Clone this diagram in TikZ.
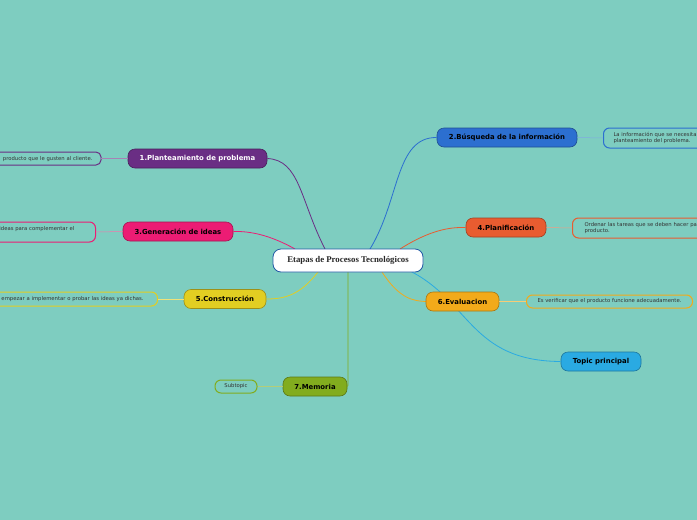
\documentclass[tikz,border=0pt]{standalone}
\usepackage{fontspec}
\setmainfont{DejaVu Sans}
\newfontfamily\serifb{Liberation Serif}
\begin{document}
\begin{tikzpicture}[x=1pt,y=-1pt,
 main/.style={rounded corners=7pt,minimum height=19pt,inner sep=0pt,font=\fontsize{6.9}{7}\selectfont\bfseries,draw=#1!70!black,fill=#1,line width=0.6pt},
 sub/.style={rounded corners=6pt,draw=#1,line width=1pt,inner sep=0pt,align=left,font=\fontsize{5.3}{6.4}\selectfont,text=black!80},
 conn/.style={line width=0.8pt,draw=#1}]
\definecolor{bg}{HTML}{7ECDC0}
\definecolor{cpur}{HTML}{6A2E84}
\definecolor{cblu}{HTML}{2C6FD0}
\definecolor{cpin}{HTML}{EC1C74}
\definecolor{cora}{HTML}{E85C30}
\definecolor{cyel}{HTML}{E2CE22}
\definecolor{cevl}{HTML}{F2AA1A}
\definecolor{ctop}{HTML}{2AAAE2}
\definecolor{cgrn}{HTML}{82AC1E}
\fill[bg] (0,0) rectangle (697,520);
\useasboundingbox (0,0) rectangle (697,520);
\coordinate (c1) at (325,249);
\coordinate (c2) at (370,249);
\coordinate (c3) at (295,249);
\coordinate (c4) at (400,249);
\coordinate (c5) at (318,272);
\coordinate (c6) at (382,272);
\coordinate (c7) at (408,270);
\coordinate (c8) at (348,272);
\node[main=cpur,text=white,minimum width=139pt] (n1) at (197.5,158.5) {1.Planteamiento de problema};
\node[main=cblu,minimum width=140pt] (n2) at (507,137.5) {2.Búsqueda de la información};
\node[main=cpin,minimum width=110pt] (n3) at (178,231.5) {3.Generación de ideas};
\node[main=cora,minimum width=80pt] (n4) at (506,227.5) {4.Planificación};
\node[main=cyel,minimum width=82pt] (n5) at (225,299) {5.Construcción};
\node[main=ctop,minimum width=80pt] (n8) at (601,361.5) {Topic principal};
\node[main=cgrn,minimum width=64pt] (n7) at (315,386.5) {7.Memoria};
\draw[conn=cpur] (c1) .. controls (300,200) and (300,160) .. (n1.east);
\draw[conn=cblu] (c2) .. controls (400,200) and (395,137) .. (n2.west);
\draw[conn=cpin] (c3) .. controls (270,235) and (250,231) .. (n3.east);
\draw[conn=cora] (c4) .. controls (430,230) and (450,227) .. (n4.west);
\draw[conn=cyel] (c5) .. controls (300,295) and (285,299) .. (n5.east);
\draw[conn=cevl] (c6) .. controls (400,300) and (415,301) .. (426,301.5);
\draw[conn=ctop] (c7) .. controls (470,300) and (470,361) .. (n8.west);
\draw[conn=cgrn] (c8) -- (348,380) .. controls (348,386) .. (n7.east);
\node[main=cevl,minimum width=73pt] (n6) at (462.5,301.5) {6.Evaluacion};
\node[draw=cblu!80!black,fill=white,rounded corners=8pt,minimum width=150pt,minimum height=23pt,line width=0.8pt,font=\serifb\fontsize{8.8}{9}\selectfont\bfseries,text=black!85] (c) at (348,260.5) {Etapas de Procesos Tecnológicos};
% subtopics
\node[sub=cpur,draw=none,anchor=east,minimum height=13pt,text width=93pt,align=right,inner xsep=0pt,text depth=0pt] (s1) at (93,158.5) {producto que le gusten al cliente.};
\draw[cpur,line width=1pt,rounded corners=5pt] (-20,152) rectangle (101,165);
\coordinate (s1e) at (101,158.5);
\node[sub=cblu,anchor=west,minimum height=20pt,text width=120pt] (s2) at (603,138) {\hspace*{10pt}La información que se necesita\\\hspace*{10pt}planteamiento del problema.};
\node[sub=cpin,anchor=east,minimum height=20pt,text width=120pt] (s3) at (96,232) {\hspace*{24pt}ideas para complementar el\\\ };
\node[sub=cora,anchor=west,minimum height=20pt,text width=150pt] (s4) at (572,228) {\hspace*{12pt}Ordenar las tareas que se deben hacer para\\\hspace*{12pt}producto.};
\node[sub=cyel,anchor=east,minimum height=14pt,text width=168pt] (s5) at (158,299) {\hspace*{12pt}empezar a implementar o probar las ideas ya dichas.};
\node[sub=cevl,anchor=west,minimum height=13pt,minimum width=166pt,align=center] (s6) at (526,301.5) {Es verificar que el producto funcione adecuadamente.};
\node[sub=cgrn,minimum height=13pt,minimum width=42pt,align=center] (s7) at (236,386.5) {Subtopic};
\draw[conn=cpur!60,line width=0.5pt] (n1.west) -- (s1e);
\draw[conn=cblu!60,line width=0.5pt] (n2.east) -- (s2.west);
\draw[conn=cpin!60,line width=0.5pt] (n3.west) -- (s3.east);
\draw[conn=cora!60,line width=0.5pt] (n4.east) -- (s4.west);
\draw[conn=cyel!60,line width=0.5pt] (n5.west) -- (s5.east);
\draw[conn=cevl!60,line width=0.5pt] (n6.east) -- (s6.west);
\draw[conn=cgrn!60,line width=0.5pt] (n7.west) -- (s7.east);
\end{tikzpicture}
\end{document}
